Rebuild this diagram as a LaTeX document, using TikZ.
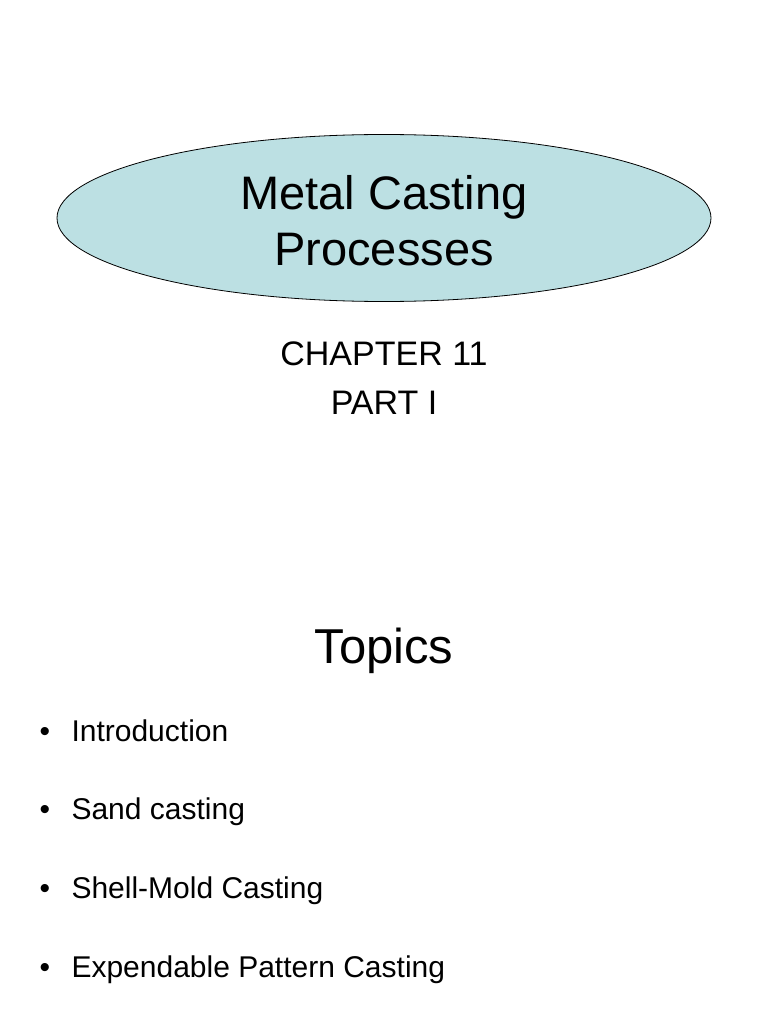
\documentclass[tikz,border=0pt]{standalone}
\usepackage{fontspec}
\usetikzlibrary{shapes.geometric}
\setmainfont{Liberation Sans}
\definecolor{ellfill}{HTML}{BCE0E3}
\begin{document}
\begin{tikzpicture}[x=1pt,y=-1pt,
  big/.style={font=\fontsize{47}{56}\selectfont, align=center},
  top/.style={font=\fontsize{49}{56}\selectfont, align=center},
  mid/.style={font=\fontsize{34}{49}\selectfont, align=center},
  item/.style={font=\fontsize{30}{34}\selectfont, anchor=base west}]
\useasboundingbox (0,0) rectangle (768,1024);
\node[draw=black, line width=0.8pt, fill=ellfill, ellipse, minimum width=654pt, minimum height=167pt, inner sep=0pt] (ell) at (384,218) {};
\node[big] (title) at (384,221) {Metal Casting\\Processes};
\node[mid] (chap) at (384,378) {CHAPTER 11\\PART I};
\node[top] (topics) at (384,651) {Topics};
\foreach \y/\t [count=\i] in {741/Introduction,819/Sand casting,898/Shell-Mold Casting,977/Expendable Pattern Casting}{
  \node[item] (b\i) at (36,\y) {\textbullet};
  \node[item] (t\i) at (68,\y) {\t};
}
\end{tikzpicture}
\end{document}
